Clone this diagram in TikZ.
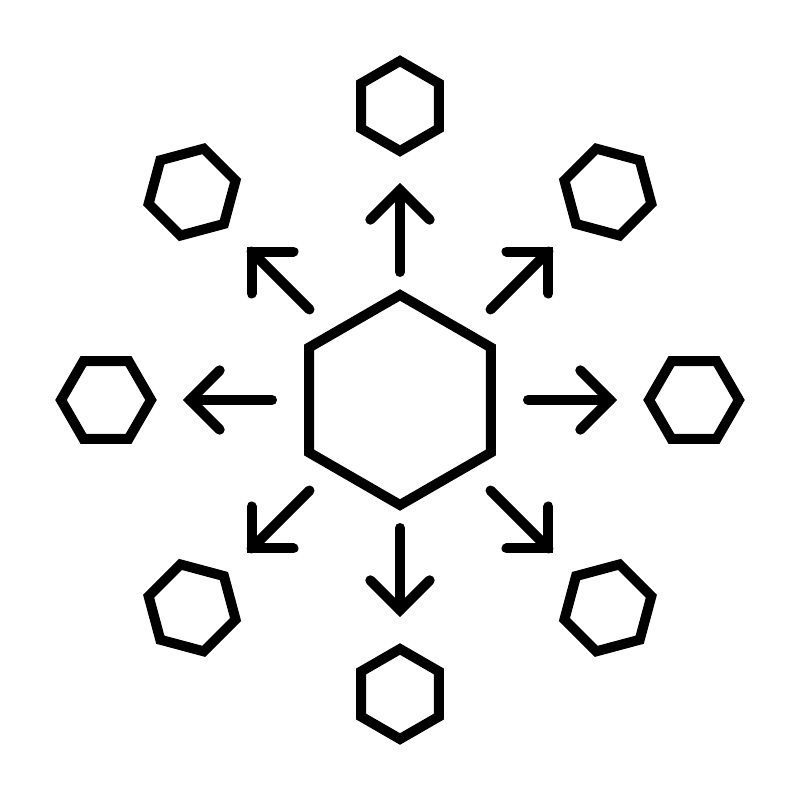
\documentclass[tikz,border=0pt]{standalone}
\usetikzlibrary{shapes.geometric}
\tikzstyle{hexa}=[regular polygon,regular polygon sides=6,draw=black,line width=1mm,line join=miter,inner sep=0pt,minimum size=0.9cm]
\tikzstyle{big hexa}=[hexa,minimum size=2.1cm]
\tikzstyle{arrow}=[line width=1mm,line cap=round,line join=miter]

\begin{document}
\begin{tikzpicture}
  \def\rad{2.94}
  \def\tail{1.28}
  \def\tip{2.10}
  \useasboundingbox (-4,-4) rectangle (4,4);
  \node[big hexa,rotate=90] (centre) at (0,0) {};
  \foreach \a in {0,45,...,315} {
    \node[hexa,rotate=\a] (hex \a) at (\a:\rad) {};
    \coordinate (tail \a) at (\a:\tail);
    \coordinate (tip \a) at (\a:\tip);
    \draw[arrow] (tail \a) -- (tip \a);
    \draw[arrow] ([shift={(\a+135:0.42)}]tip \a) -- (tip \a)
      -- ([shift={(\a-135:0.42)}]tip \a);
  }
\end{tikzpicture}
\end{document}
